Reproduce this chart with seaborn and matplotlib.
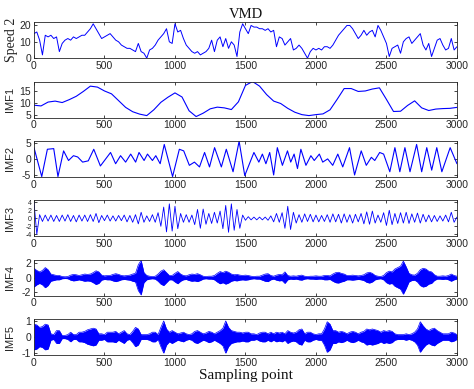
import numpy as np
import matplotlib
matplotlib.use("Agg")
import matplotlib.pyplot as plt
import seaborn as sns

# ---------------- data ----------------
speed_step = 20
speed2 = [
    15, 16, 11, 2, 14, 13, 14, 12, 13, 4,
    9, 11, 12, 11, 13, 12, 13, 14, 14, 16,
    18, 21, 18, 15, 12, 13, 14, 15, 13, 11,
    10, 8, 7, 6, 6, 5, 4, 9, 4, 3,
    0, 5, 6, 8, 11, 13, 15, 18, 10, 9,
    21, 16, 17, 12, 8, 6, 4, 3, 4, 2,
    3, 4, 6, 11, 4, 11, 13, 7, 12, 6,
    10, 8, 1, 16, 21, 18, 15, 20, 19, 19,
    18, 18, 17, 18, 16, 17, 7, 13, 12, 8,
    10, 12, 5, 6, 8, 6, 3, 0, 4, 6,
    5, 6, 5, 7, 7, 6, 8, 11, 14, 16,
    18, 20, 20, 18, 15, 12, 14, 17, 14, 16,
    17, 13, 20, 17, 13, 9, 1, 6, 7, 8,
    3, 10, 12, 13, 9, 11, 13, 15, 8, 5,
    9, 1, 6, 11, 12, 8, 5, 6, 12, 5,
    7,
]

imf1_step = 50
imf1 = [
    9.1, 8.8, 10.4, 10.8, 10.2, 11.4, 12.8, 14.8, 17.0, 16.6,
    15.0, 13.8, 11.0, 8.2, 6.4, 5.4, 4.8, 7.2, 10.3, 12.4,
    14.2, 12.5, 6.8, 4.4, 5.8, 7.6, 8.3, 8.0, 7.3, 10.5,
    17.3, 18.9, 17.0, 13.5, 10.8, 9.8, 7.8, 6.2, 5.2, 4.8,
    5.2, 5.5, 7.2, 11.5, 16.0, 16.0, 14.8, 15.0, 15.8, 16.3,
    11.5, 6.5, 6.6, 9.0, 10.9, 8.0, 6.9, 7.5, 7.7, 7.8,
    8.2,
]

imf2_x = [0, 55, 95, 140, 170, 210, 245, 280, 310, 345, 385, 424, 471, 543,
          579, 614, 650, 686, 721, 745, 781, 805, 840, 864, 895, 924, 983,
          1031, 1062, 1102, 1138, 1174, 1210, 1245, 1281, 1329, 1364, 1412,
          1455, 1495, 1560, 1595, 1620, 1645, 1672, 1700, 1726, 1762, 1798,
          1821, 1845, 1869, 1893, 1929, 1964, 1988, 2024, 2048, 2083, 2119,
          2155, 2190, 2238, 2274, 2321, 2357, 2393, 2417, 2452, 2480, 2524,
          2560, 2595, 2631, 2667, 2714, 2750, 2786, 2821, 2857, 2893, 2952, 3000]
imf2_y = [3.5, -5.5, 3.0, 3.2, -5.5, 2.5, -0.5, 1.0, 0.6, -1.0, -0.6, 3.0, -2.2, 2.0,
          -1.5, 1.0, -1.0, 1.5, -1.0, 2.0, -0.5, 1.5, -0.5, 1.0, -1.5, 4.5, -5.5,
          3.0, 2.5, -2.0, -1.0, -2.5, 2.0, -2.5, 3.5, -2.5, 3.0, -4.0,
          5.5, -5.2, 2.0, -1.0, 1.5, -1.5, 2.0, -5.0, 3.5, -2.0, 2.5,
          -1.0, 1.5, -3.0, 3.0, -2.0, 1.0, -0.5, 1.5, -1.0, 0.0, -2.0,
          1.5, -2.5, 3.5, -5.0, 2.5, -2.0, 0.5, -0.5, 2.0, 1.5, -4.0,
          3.5, -4.0, 3.5, -4.0, 4.5, -4.0, 3.5, -3.5, 3.5, -4.0, 3.5, -1.5]

imf3_step = 20
imf3 = [
    4.0, -4.0, 0.9, -0.8, 0.8, -0.7, 0.8, -0.8, 0.7, -0.8,
    0.8, -0.7, 0.9, -0.8, 0.7, -0.9, 0.8, -0.7, 0.8, -0.8,
    0.9, -0.8, 1.2, -1.1, 0.7, -0.6, 0.8, -0.7, 0.6, -0.7,
    0.7, -0.6, 0.8, -0.9, 0.7, -1.0, 0.9, -1.4, 1.5, -1.0,
    0.6, -0.8, 0.9, -1.0, 1.4, -2.0, 2.8, -3.4, 3.6, -3.2,
    3.0, -2.6, 1.2, -1.0, 0.9, -1.0, 0.8, -1.6, 2.2, -2.5,
    2.3, -1.5, 1.2, -1.3, 1.5, -1.2, 1.8, -2.6, 3.2, -3.5,
    3.6, -3.0, 2.2, -2.5, 0.8, -0.5, 0.4, -0.4, 0.3, -0.4,
    0.3, -0.4, 0.3, -0.5, 0.6, -0.9, 1.2, -1.0, 1.4, -2.5,
    3.0, -2.8, 1.5, -1.2, 0.9, -1.0, 1.1, -0.8, 1.0, -0.9,
    0.8, -0.9, 0.7, -0.8, 0.9, -1.0, 1.1, -0.9, 1.0, -1.2,
    1.1, -1.0, 0.9, -1.2, 1.0, -0.9, 1.2, -1.4, 1.6, -1.5,
    1.8, -1.2, 0.8, -1.0, 1.4, -1.8, 2.0, -1.6, 1.2, -1.3,
    1.4, -1.2, 1.5, -1.3, 1.1, -1.0, 1.3, -1.2, 1.0, -0.9,
    0.8, -0.9, 0.7, -0.8, 0.6, -0.7, 0.8, -0.9, 1.5, -1.0,
    0.3,
]

env_step = 20
imf4_env = [
    1.3, 1.0, 0.8, 1.0, 1.4, 1.1, 0.5, 0.4, 0.3, 0.3,
    0.15, 0.12, 0.15, 0.35, 0.45, 0.4, 0.3, 0.4, 0.5, 0.45,
    0.5, 0.7, 0.95, 0.8, 0.35, 0.25, 0.3, 0.3, 0.45, 0.55,
    0.45, 0.3, 0.25, 0.3, 0.35, 0.5, 0.6, 1.8, 2.4, 0.7,
    0.3, 0.2, 0.15, 0.2, 0.5, 0.9, 1.1, 0.7, 0.3, 0.3,
    0.6, 0.85, 0.5, 0.3, 0.25, 0.4, 0.5, 0.45, 0.55, 0.4,
    0.2, 0.15, 0.2, 0.2, 0.3, 0.6, 0.85, 0.7, 0.9, 0.75,
    0.5, 0.4, 0.45, 0.35, 0.3, 0.35, 0.3, 0.2, 0.15, 0.2,
    0.2, 0.35, 0.5, 0.55, 0.3, 0.2, 0.35, 0.45, 0.4, 0.8,
    0.3, 0.2, 0.25, 0.2, 0.3, 0.35, 0.2, 0.15, 0.2, 0.2,
    0.25, 0.2, 0.2, 0.3, 0.3, 0.25, 0.5, 0.7, 0.75, 0.6,
    0.5, 0.3, 0.3, 0.35, 0.3, 0.25, 0.3, 0.4, 0.65, 0.75,
    0.6, 0.3, 0.2, 0.15, 0.3, 0.7, 0.9, 0.8, 1.2, 1.4,
    1.6, 2.3, 1.5, 0.6, 0.4, 0.35, 0.6, 1.1, 1.3, 1.2,
    0.9, 0.8, 0.4, 0.2, 0.2, 0.25, 0.2, 0.3, 0.5, 0.3,
    0.2,
]
imf5_env = [
    0.8, 0.75, 0.6, 0.65, 0.8, 0.75, 0.2, 0.15, 0.4, 0.4,
    0.1, 0.1, 0.15, 0.3, 0.15, 0.15, 0.3, 0.3, 0.35, 0.45,
    0.5, 0.55, 0.5, 0.2, 0.2, 0.15, 0.3, 0.3, 0.3, 0.35,
    0.2, 0.3, 0.4, 0.2, 0.15, 0.35, 0.6, 0.5, 0.15, 0.15,
    0.15, 0.2, 0.3, 0.3, 0.15, 0.6, 1.0, 0.5, 0.3, 0.4,
    0.3, 0.2, 0.25, 0.3, 0.2, 0.15, 0.2, 0.35, 0.4, 0.3,
    0.2, 0.25, 0.35, 0.3, 0.2, 0.3, 0.4, 0.55, 1.0, 0.6,
    0.4, 0.35, 0.3, 0.3, 0.25, 0.3, 0.3, 0.2, 0.2, 0.15,
    0.25, 0.3, 0.3, 0.2, 0.3, 0.2, 0.3, 0.25, 0.3, 0.2,
    0.4, 0.3, 0.25, 0.3, 0.45, 0.5, 0.2, 0.3, 0.3, 0.2,
    0.15, 0.2, 0.2, 0.5, 0.95, 0.8, 0.4, 0.4, 0.3, 0.35,
    0.3, 0.2, 0.3, 0.35, 0.3, 0.2, 0.3, 0.35, 0.5, 0.45,
    0.5, 0.45, 0.4, 0.3, 0.4, 0.35, 0.4, 0.35, 0.2, 0.15,
    0.15, 0.15, 0.2, 0.15, 0.2, 0.3, 0.5, 0.95, 0.7, 0.5,
    0.4, 0.5, 0.55, 0.4, 0.3, 0.2, 0.2, 0.2, 0.3, 0.25,
    0.15,
]

labels = ["Speed 2", "IMF1", "IMF2", "IMF3", "IMF4", "IMF5"]
xticks = [0, 500, 1000, 1500, 2000, 2500, 3000]
yticks = [[0, 10, 20], [5, 10, 15], [-5, 0, 5], [-4, -2, 0, 2, 4], [-2, 0, 2], [-1, 0, 1]]
ylims = [(0, 22), (4, 18.9), (-5.6, 5.6), (-4.5, 4.5), (-2.5, 2.5), (-1.12, 1.12)]

# ---------------- plotting ----------------
sns.set_theme(style="ticks")
plt.rcParams["font.family"] = ["Liberation Sans", "DejaVu Sans"]
plt.rcParams["axes.unicode_minus"] = False

BLUE = "#0000ff"
GREY = "#262626"

fig, axes = plt.subplots(6, 1, figsize=(4.74, 3.89), dpi=100)
fig.subplots_adjust(left=0.0717, right=0.964, top=0.943, bottom=0.0874, hspace=0.65)

def xs(n, step):
    return np.arange(n) * step

sns.lineplot(x=xs(len(speed2), speed_step), y=speed2, ax=axes[0], color=BLUE,
             lw=0.7, estimator=None, sort=False)
sns.lineplot(x=xs(len(imf1), imf1_step), y=imf1, ax=axes[1], color=BLUE,
             lw=0.8, estimator=None, sort=False)
sns.lineplot(x=imf2_x, y=imf2_y, ax=axes[2], color=BLUE, lw=0.8,
             estimator=None, sort=False)
sns.lineplot(x=xs(len(imf3), imf3_step), y=imf3, ax=axes[3], color=BLUE,
             lw=0.6, estimator=None, sort=False)
for ax, env in ((axes[4], imf4_env), (axes[5], imf5_env)):
    e = np.array(env)
    xx = xs(len(e), env_step)
    ax.fill_between(xx, -e, e, color=BLUE, lw=0)
    sns.lineplot(x=xx, y=e, ax=ax, color=BLUE, lw=0.5, estimator=None, sort=False)
    sns.lineplot(x=xx, y=-e, ax=ax, color=BLUE, lw=0.5, estimator=None, sort=False)

for i, ax in enumerate(axes):
    ax.set_xlim(0, 3000)
    ax.set_ylim(*ylims[i])
    ax.set_xticks(xticks)
    ax.set_xticklabels([str(t) for t in xticks])
    ax.set_yticks(yticks[i])
    ax.set_yticklabels([str(t) for t in yticks[i]])
    ax.tick_params(direction="in", length=2.5, width=0.6, top=True, right=True,
                   labelsize=7.5, colors=GREY, pad=2)
    if i == 3:
        ax.tick_params(axis="y", labelsize=5, pad=1.5)
    for s in ax.spines.values():
        s.set_visible(True)
        s.set_color(GREY)
        s.set_linewidth(0.6)
    if i == 0:
        ax.set_ylabel(labels[i], family=["Liberation Serif"], fontsize=10, color=GREY)
        ax.yaxis.set_label_coords(-0.037, 0.5)
    else:
        ax.set_ylabel(labels[i], fontsize=8, color=GREY)
        ax.yaxis.set_label_coords(-0.046, 0.5)

axes[0].set_title("VMD", family=["Liberation Serif"], fontsize=10.5, color="#111111", pad=3)
axes[-1].set_xlabel("Sampling point", family=["Liberation Serif"], fontsize=11,
                    color="#111111", labelpad=1)

fig.savefig("out.png", dpi=100)
